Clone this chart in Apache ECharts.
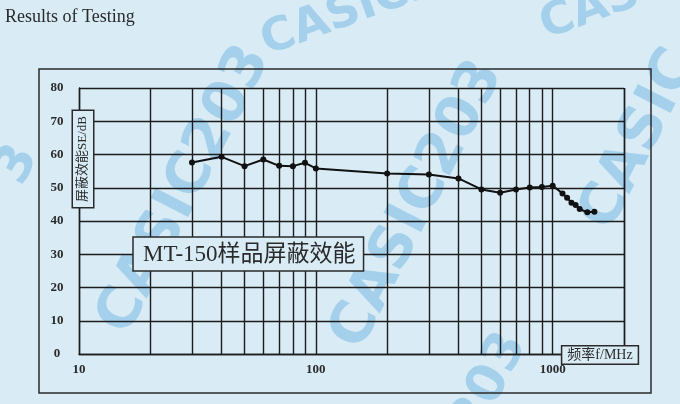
<!DOCTYPE html>
<html>
<head>
<meta charset="utf-8">
<script src="https://cdn.jsdelivr.net/npm/echarts@6/dist/echarts.min.js"></script>
<style>
  html, body { margin: 0; padding: 0; background: #d9ecf6; }
  #chart { width: 680px; height: 404px; }
</style>
</head>
<body>
<div id="chart"></div>
<script>
// ---- data ----
const freqMHz = [30, 40, 50, 60, 70, 80, 90, 100, 200, 300, 400, 500, 600, 700, 800, 900, 1000, 1100, 1150, 1200, 1250, 1300, 1400, 1500];
const seDb    = [57.6, 59.3, 56.5, 58.5, 56.6, 56.5, 57.5, 55.8, 54.3, 54.0, 52.8, 49.5, 48.5, 49.5, 50.1, 50.2, 50.6, 48.3, 47.0, 45.5, 44.8, 43.6, 42.6, 42.8];
const gridFreqs = [20, 30, 40, 50, 60, 70, 80, 90, 200, 300, 400, 500, 600, 700, 800, 900, 2000];
const xTickLabels = [10, 100, 1000];
const yMin = 0, yMax = 80, yStep = 10;
const xMin = 10, xMax = 2000;
const seriesName = 'MT-150样品屏蔽效能';
const yAxisTitle = '屏蔽效能SE/dB';
const xAxisTitle = '频率f/MHz';
const chartTitle = 'Results of Testing';
const watermark = 'CASIC203';

const BG = '#d9ecf6';
const INK = '#1c1c1c';
const serif = '"Liberation Serif", "DejaVu Serif", serif';
const mixed = '"Liberation Serif", "Noto Sans CJK SC", serif';

const chart = echarts.init(document.getElementById('chart'));

const wm = (x, y, rot, size, text) => ({
  type: 'text', x: x, y: y, rotation: rot, z: -10, silent: true,
  style: { text: text, fill: 'rgba(100,175,225,0.45)', font: 'bold ' + size + 'px "DejaVu Sans", sans-serif',
           textAlign: 'center', textVerticalAlign: 'middle' }
});

chart.setOption({
  backgroundColor: BG,
  animation: false,
  title: {
    text: chartTitle, left: 0, top: 3,
    textStyle: { fontFamily: serif, fontSize: 18, fontWeight: 'normal', color: '#2a2a2a' }
  },
  grid: { left: 79, right: 56, top: 88, bottom: 50, containLabel: false },
  legend: {
    data: [{ name: seriesName, icon: 'rect' }],
    left: 133, top: 237,
    itemWidth: 0, itemHeight: 0, itemGap: 0,
    padding: [6, 8, 5, 5],
    backgroundColor: BG, borderColor: '#2a2a2a', borderWidth: 1.5, borderRadius: 0,
    textStyle: { fontFamily: mixed, fontSize: 23, color: '#2a2a2a' },
    z: 20
  },
  xAxis: {
    type: 'log', logBase: 10, min: xMin, max: xMax,
    axisLine: { show: true, lineStyle: { color: INK, width: 1.4 } },
    axisTick: { show: false },
    splitLine: { show: true, lineStyle: { color: INK, width: 1.4 } },
    axisLabel: {
      margin: 9, fontFamily: serif, fontSize: 13, fontWeight: 'bold', color: '#2a2a2a',
      showMaxLabel: false,
      formatter: v => xTickLabels.indexOf(Math.round(v)) >= 0 ? String(Math.round(v)) : ''
    }
  },
  yAxis: {
    type: 'value', min: yMin, max: yMax, interval: yStep,
    axisLine: { show: true, lineStyle: { color: INK, width: 1.4 } },
    axisTick: { show: false },
    splitLine: { show: true, lineStyle: { color: INK, width: 1.4 } },
    axisLabel: {
      margin: 22, align: 'center', fontFamily: serif, fontSize: 13, fontWeight: 'bold', color: '#2a2a2a'
    }
  },
  series: [
    {
      name: 'grid', type: 'line', data: [], silent: true, z: 1,
      markLine: {
        silent: true, symbol: 'none', label: { show: false },
        lineStyle: { color: INK, width: 1.4, type: 'solid' },
        data: gridFreqs.map(f => ({ xAxis: f }))
      }
    },
    {
      name: seriesName, type: 'line', z: 5,
      data: freqMHz.map((f, i) => [f, seDb[i]]),
      symbol: 'circle', symbolSize: 6,
      lineStyle: { color: '#111', width: 2 },
      itemStyle: { color: '#111' }
    }
  ],
  graphic: [
    wm(185, 190, 1.1, 58, watermark),
    wm(418, 205, 1.1, 58, watermark),
    wm(640, 140, 1.1, 58, 'CASIC'),
    wm(350, 12, 0.35, 46, 'CASIC2'),
    wm(590, 10, 0.35, 46, 'CAS'),
    wm(18, 165, 1.1, 52, '3'),
    wm(490, 385, 1.1, 52, '203'),
    {
      type: 'rect', z: -5, silent: true,
      shape: { x: 39, y: 69, width: 612, height: 324 },
      style: { fill: 'none', stroke: '#2a2a2a', lineWidth: 1.5 }
    },
    {
      type: 'text', x: 83, y: 159, rotation: Math.PI / 2, z: 30,
      style: {
        text: yAxisTitle, font: '13px ' + mixed, fill: '#2a2a2a',
        textAlign: 'center', textVerticalAlign: 'middle',
        backgroundColor: BG, borderColor: '#2a2a2a', borderWidth: 1.5, padding: [4, 5, 3, 5]
      }
    },
    {
      type: 'text', x: 600, y: 355, z: 30,
      style: {
        text: xAxisTitle, font: '14px ' + mixed, fill: '#2a2a2a',
        textAlign: 'center', textVerticalAlign: 'middle',
        backgroundColor: BG, borderColor: '#2a2a2a', borderWidth: 1.5, padding: [2, 5, 1, 5]
      }
    }
  ]
});
</script>
</body>
</html>
